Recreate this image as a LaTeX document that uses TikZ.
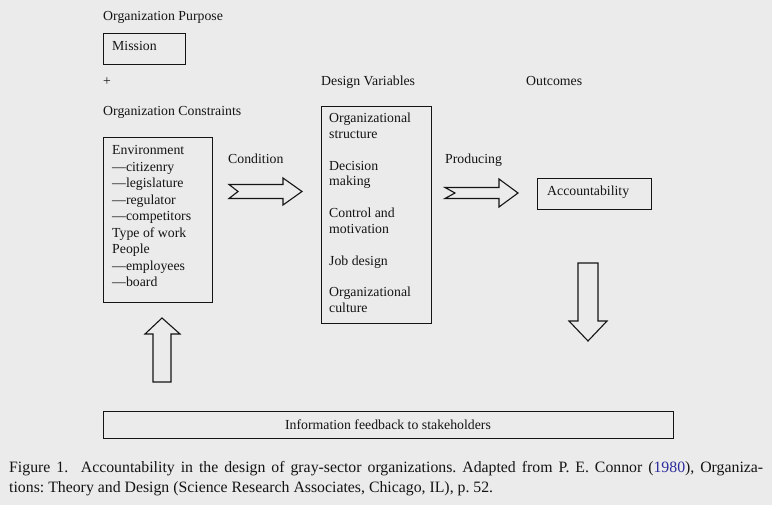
\documentclass[tikz,border=0pt]{standalone}
\usepackage{fontspec}
\setmainfont{Liberation Serif}
\usepackage{xcolor}
\definecolor{bg}{HTML}{EBEBEB}
\definecolor{ink}{HTML}{141414}
\definecolor{citeblue}{HTML}{2B2B9C}
\newcommand{\dfs}{\fontsize{13.8}{16.5}\selectfont}
\newcommand{\cfs}{\fontsize{15.8}{20}\selectfont\frenchspacing}
\begin{document}
\begin{tikzpicture}[x=1pt,y=-1pt,
  box/.style={draw=ink, line width=1.1pt, inner sep=0, anchor=north west},
  lbl/.style={anchor=base west, inner sep=0, font=\dfs, text=ink},
  blockarrow/.style={draw=ink, line width=1.1pt, line join=miter}]
\fill[bg] (0,0) rectangle (772,505);
\useasboundingbox (0,0) rectangle (772,505);
% headings
\node[lbl] (purpose) at (103,21) {Organization Purpose};
\node[box, minimum width=82pt, minimum height=31pt] (mission) at (103,33) {};
\node[lbl] (missiont) at (112,51) {Mission};
\node[lbl] (plus) at (103,86) {+};
\node[lbl] (constr) at (103,116) {Organization Constraints};
\node[lbl] (design) at (321,86) {Design Variables};
\node[lbl] (outcomes) at (526,86) {Outcomes};
\node[lbl] (condition) at (228,164) {Condition};
\node[lbl] (producing) at (445,164) {Producing};
% constraints box
\node[box, minimum width=109pt, minimum height=165pt] (cbox) at (103,137) {};
\foreach \t [count=\i from 0] in {Environment, \textemdash citizenry, \textemdash legislature, \textemdash regulator, \textemdash competitors, Type of work, People, \textemdash employees, \textemdash board}
  \node[lbl] (c\i) at (112,155+16.5*\i) {\t};
% design box
\node[box, minimum width=110pt, minimum height=217pt] (dbox) at (321,106) {};
\node[lbl] (d1) at (329,123) {Organizational};
\node[lbl] (d2) at (329,138.5) {structure};
\node[lbl] (d3) at (329,171) {Decision};
\node[lbl] (d4) at (329,186) {making};
\node[lbl] (d5) at (329,218) {Control and};
\node[lbl] (d6) at (329,233.5) {motivation};
\node[lbl] (d7) at (329,266) {Job design};
\node[lbl] (d8) at (329,297) {Organizational};
\node[lbl] (d9) at (329,313) {culture};
% outcome box
\node[box, minimum width=114pt, minimum height=31pt] (abox) at (537,178) {};
\node[lbl] (atext) at (547,196) {Accountability};
% feedback box
\node[box, minimum width=570pt, minimum height=27pt] (fbox) at (103,411) {};
\node[anchor=base, inner sep=0, font=\dfs, text=ink] (ftext) at (388,429) {Information feedback to stakeholders};
% block arrows
\draw[blockarrow] (229,184.5) -- (283,184.5) -- (283,178) -- (302,191.5) -- (283,205) -- (283,198.5) -- (229,198.5) -- (238,191.5) -- cycle;
\draw[blockarrow] (445,187.5) -- (499,187.5) -- (499,179) -- (518,193) -- (499,207) -- (499,198.5) -- (445,198.5) -- (455,193) -- cycle;
\draw[blockarrow] (578,263) -- (598,263) -- (598,321) -- (607,321) -- (588,341) -- (569,321) -- (578,321) -- cycle;
\draw[blockarrow] (153,382) -- (171,382) -- (171,334) -- (180,334) -- (162,318) -- (145,334) -- (153,334) -- cycle;
% caption
\node[anchor=base west, inner sep=0, font=\cfs, text=ink] (cap1) at (9,472) {\makebox[754pt][s]{Figure 1.\hspace{0.8em}Accountability in the design of gray-sector organizations. Adapted from P. E. Connor (\textcolor{citeblue}{1980}), Organiza-}};
\node[anchor=base west, inner sep=0, font=\cfs, text=ink] (cap2) at (9,492) {tions: Theory and Design (Science Research Associates, Chicago, IL), p. 52.};
\end{tikzpicture}
\end{document}
